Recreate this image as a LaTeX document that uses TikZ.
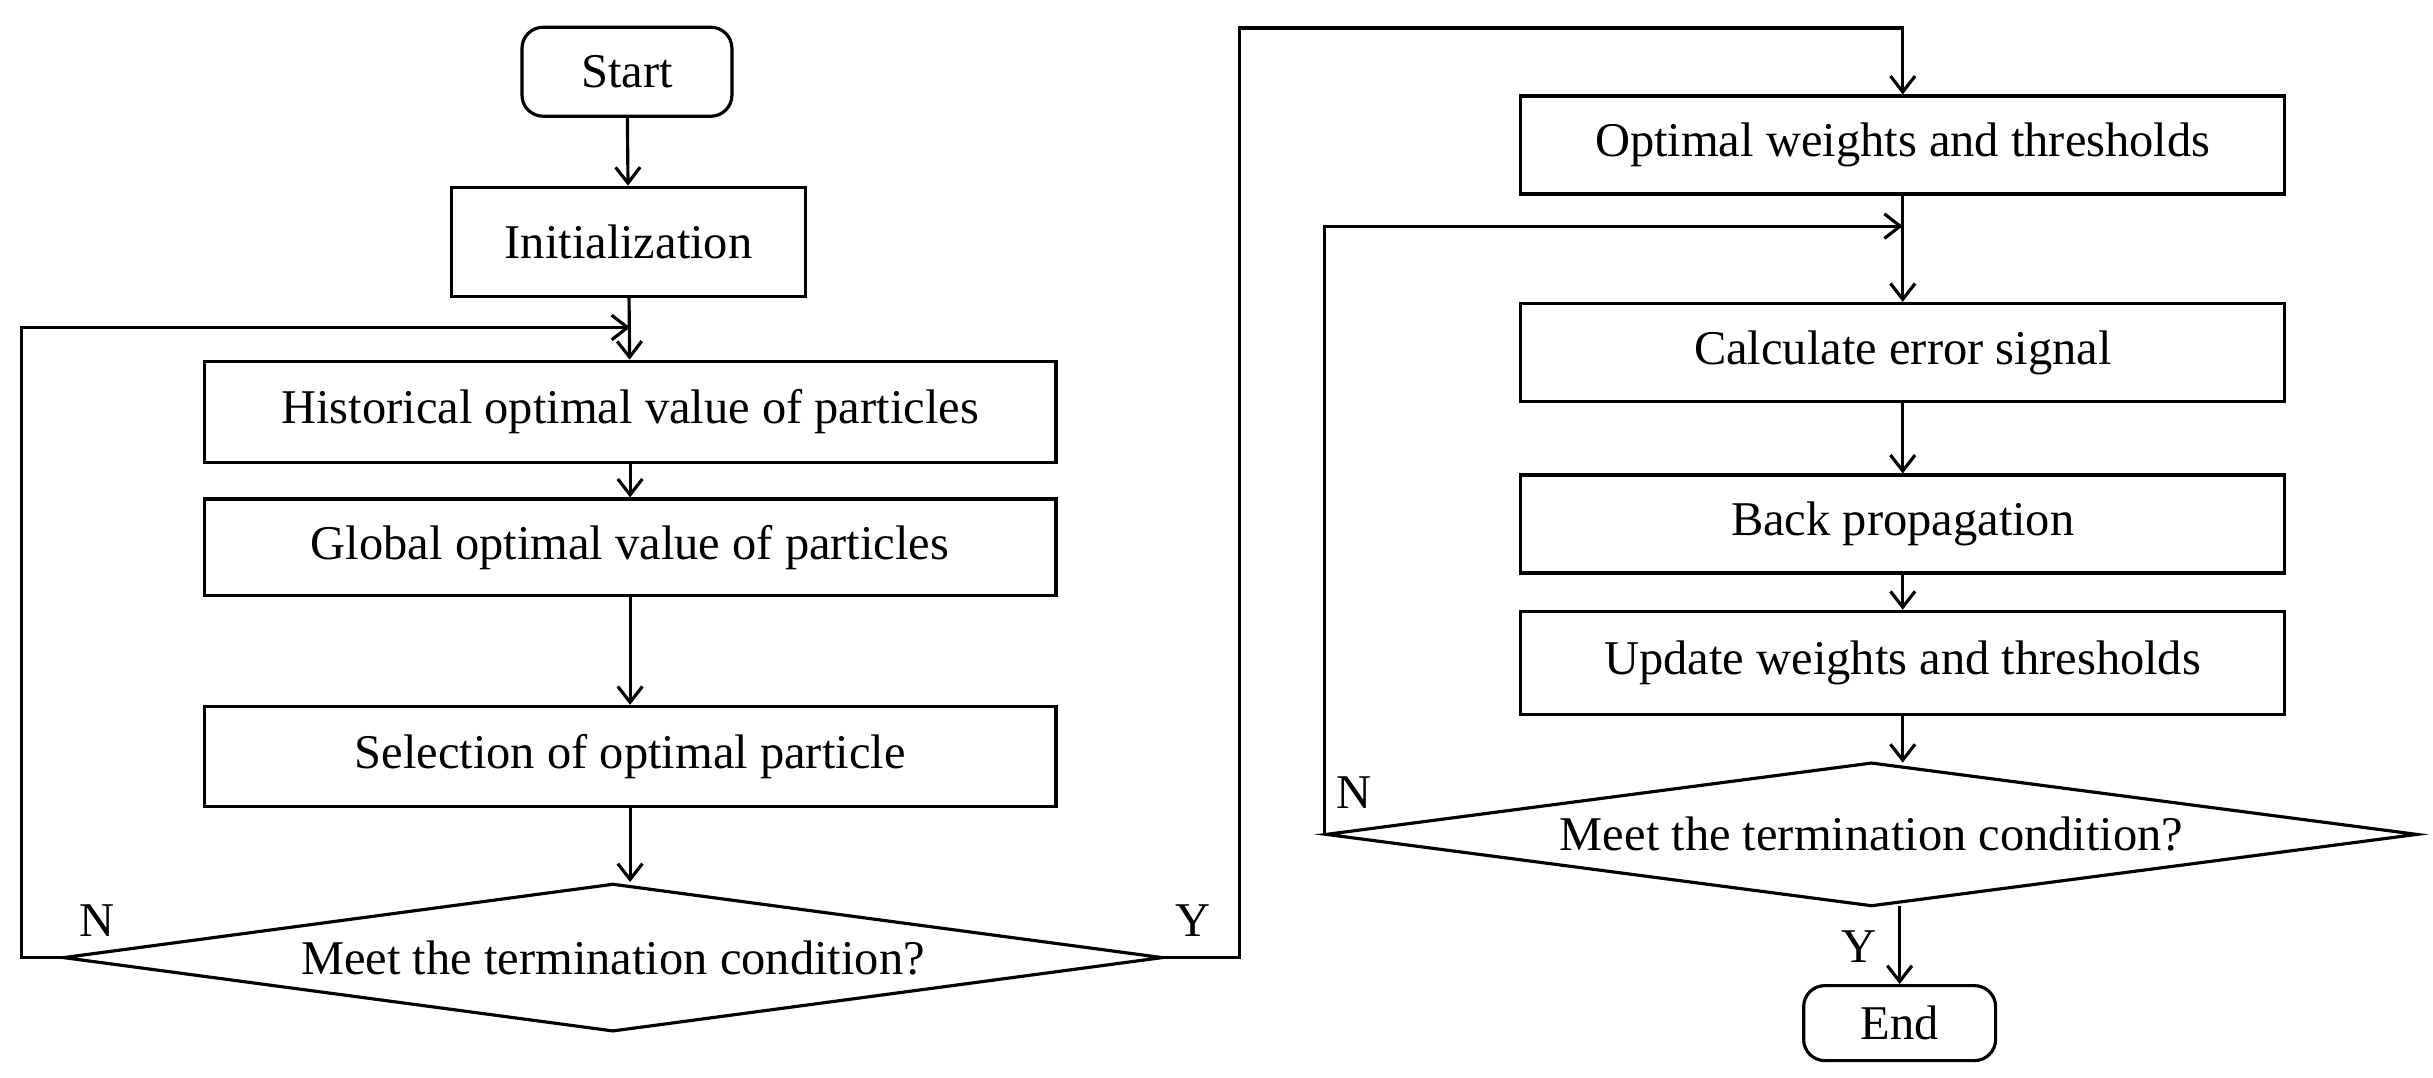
\documentclass[tikz,border=0pt]{standalone}
\usepackage{fontspec}
\setmainfont{Liberation Serif}
\usetikzlibrary{shapes.geometric,arrows.meta}
\begin{document}
\begin{tikzpicture}[x=0.156mm,y=-0.156mm,
  every node/.style={font=\fontsize{13.8}{16}\selectfont},
  box/.style={draw,line width=0.9pt,inner sep=0pt},
  dia/.style={draw,line width=0.9pt,diamond,inner sep=0pt},
  arr/.style={line width=0.9pt,-{Straight Barb[length=4.5pt,width=7pt]}},
  ln/.style={line width=0.9pt}]
\useasboundingbox (0,0) rectangle (1560,691);
\node[box,rounded corners=6pt,minimum width=21mm,minimum height=8.9mm] (start) at (402,46) {Start};
\node[box,minimum width=35.4mm,minimum height=10.9mm] (init) at (403,155) {Initialization};
\node[box,minimum width=85.2mm,minimum height=10.1mm] (hist) at (404,264) {Historical optimal value of particles};
\node[box,minimum width=85.2mm,minimum height=9.7mm] (glob) at (404,351) {Global optimal value of particles};
\node[box,minimum width=85.2mm,minimum height=10mm] (sel) at (404,485) {Selection of optimal particle};
\node[dia,minimum width=110mm,minimum height=14.8mm,aspect=7.4] (d1) at (393,614) {Meet the termination condition?};
\node[box,minimum width=76.4mm,minimum height=9.8mm] (opt) at (1220,93) {Optimal weights and thresholds};
\node[box,minimum width=76.4mm,minimum height=9.8mm] (calc) at (1220,226) {Calculate error signal};
\node[box,minimum width=76.4mm,minimum height=9.8mm] (back) at (1220,336) {Back propagation};
\node[box,minimum width=76.4mm,minimum height=10.3mm] (upd) at (1220,425) {Update weights and thresholds};
\node[dia,minimum width=109.2mm,minimum height=14.4mm,aspect=7.6] (d2) at (1200,535) {Meet the termination condition?};
\node[box,rounded corners=6pt,minimum width=19.2mm,minimum height=7.5mm] (end) at (1218,656) {End};
\node (n1) at (62,590) {N};
\node (y1) at (765,590) {Y};
\node (n2) at (868,508) {N};
\node (y2) at (1192,607) {Y};
\coordinate (j1) at (404,210);
\coordinate (j2) at (1220,145);
\draw[arr] (start) -- (init);
\draw[arr] (init) -- (hist);
\draw[arr] (hist) -- (glob);
\draw[arr] (glob) -- (sel);
\draw[arr] (sel) -- (sel.south |- d1.north);
\draw[arr] (d1.west) -- (14,614) |- (j1);
\draw[arr] (d1.east) -- (795,614) |- (1220,18) -- (opt);
\draw[arr] (opt) -- (calc);
\draw[arr] (calc) -- (back);
\draw[arr] (back) -- (upd);
\draw[arr] (upd.south) -- (1220,489);
\draw[arr] (d2.west) |- (j2);
\draw[arr] (1218,581) -- (end);
\end{tikzpicture}
\end{document}
